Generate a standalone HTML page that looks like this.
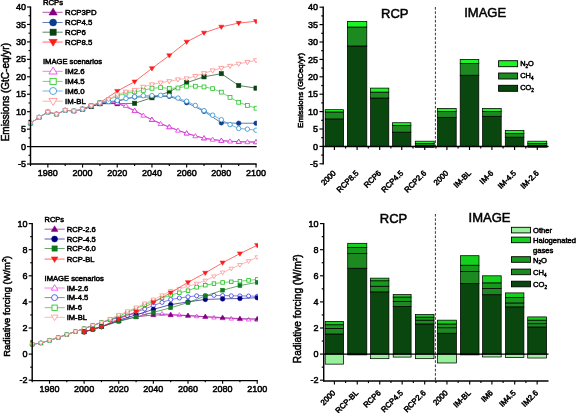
<!DOCTYPE html>
<html lang="en"><head><meta charset="utf-8"><title>RCP and IMAGE scenarios</title>
<style>html,body{margin:0;padding:0;background:#fff}svg{display:block}text{font-family:"Liberation Sans", Arial, sans-serif;fill:#000;stroke:#000;stroke-width:0.5px}</style>
</head><body>
<svg width="577" height="413" viewBox="0 0 577 413">
<rect width="577" height="413" fill="#fff"/>
<defs><clipPath id="ca"><rect x="0" y="0" width="256.85" height="170"/></clipPath>
<clipPath id="cc"><rect x="0" y="207" width="258" height="180"/></clipPath></defs>
<g clip-path="url(#ca)">
<polyline fill="none" stroke="#800080" stroke-width="0.65" points="82.55,109.26 91.22,106.46 99.9,103.67 117.25,103.32 134.6,110.65 151.95,119.73 169.3,127.06 186.65,133.34 204,138.22 221.35,140.67 238.7,141.71 256.05,142.06"/><polygon points="82.55,106.67 79.96,110.95 85.14,110.95" fill="#800080" stroke="#800080" stroke-width="0.5"/><polygon points="91.22,103.87 88.63,108.16 93.82,108.16" fill="#800080" stroke="#800080" stroke-width="0.5"/><polygon points="99.9,101.08 97.31,105.36 102.49,105.36" fill="#800080" stroke="#800080" stroke-width="0.5"/><polygon points="117.25,100.73 114.66,105.02 119.84,105.02" fill="#800080" stroke="#800080" stroke-width="0.5"/><polygon points="134.6,108.06 132.01,112.34 137.19,112.34" fill="#800080" stroke="#800080" stroke-width="0.5"/><polygon points="151.95,117.14 149.36,121.42 154.54,121.42" fill="#800080" stroke="#800080" stroke-width="0.5"/><polygon points="169.3,124.46 166.71,128.75 171.89,128.75" fill="#800080" stroke="#800080" stroke-width="0.5"/><polygon points="186.65,130.75 184.06,135.03 189.24,135.03" fill="#800080" stroke="#800080" stroke-width="0.5"/><polygon points="204,135.63 201.41,139.92 206.59,139.92" fill="#800080" stroke="#800080" stroke-width="0.5"/><polygon points="221.35,138.08 218.76,142.36 223.94,142.36" fill="#800080" stroke="#800080" stroke-width="0.5"/><polygon points="238.7,139.12 236.11,143.41 241.29,143.41" fill="#800080" stroke="#800080" stroke-width="0.5"/><polygon points="256.05,139.47 253.46,143.75 258.64,143.75" fill="#800080" stroke="#800080" stroke-width="0.5"/>
<polyline fill="none" stroke="#0b3d8c" stroke-width="0.65" points="82.55,109.26 91.22,106.46 99.9,103.67 117.25,101.23 134.6,97.04 151.95,97.04 169.3,96.34 186.65,102.63 204,111.35 221.35,122.87 238.7,123.22 256.05,123.22"/><circle cx="82.55" cy="109.26" r="2.31" fill="#0b3d8c" stroke="#0b3d8c" stroke-width="0.5"/><circle cx="91.22" cy="106.46" r="2.31" fill="#0b3d8c" stroke="#0b3d8c" stroke-width="0.5"/><circle cx="99.9" cy="103.67" r="2.31" fill="#0b3d8c" stroke="#0b3d8c" stroke-width="0.5"/><circle cx="117.25" cy="101.23" r="2.31" fill="#0b3d8c" stroke="#0b3d8c" stroke-width="0.5"/><circle cx="134.6" cy="97.04" r="2.31" fill="#0b3d8c" stroke="#0b3d8c" stroke-width="0.5"/><circle cx="151.95" cy="97.04" r="2.31" fill="#0b3d8c" stroke="#0b3d8c" stroke-width="0.5"/><circle cx="169.3" cy="96.34" r="2.31" fill="#0b3d8c" stroke="#0b3d8c" stroke-width="0.5"/><circle cx="186.65" cy="102.63" r="2.31" fill="#0b3d8c" stroke="#0b3d8c" stroke-width="0.5"/><circle cx="204" cy="111.35" r="2.31" fill="#0b3d8c" stroke="#0b3d8c" stroke-width="0.5"/><circle cx="221.35" cy="122.87" r="2.31" fill="#0b3d8c" stroke="#0b3d8c" stroke-width="0.5"/><circle cx="238.7" cy="123.22" r="2.31" fill="#0b3d8c" stroke="#0b3d8c" stroke-width="0.5"/><circle cx="256.05" cy="123.22" r="2.31" fill="#0b3d8c" stroke="#0b3d8c" stroke-width="0.5"/>
<polyline fill="none" stroke="#0a4214" stroke-width="0.65" points="82.55,109.26 91.22,106.46 99.9,103.67 117.25,103.67 134.6,103.32 151.95,97.74 169.3,91.81 186.65,82.73 204,76.8 221.35,73.66 238.7,85.52 256.05,88.14"/><rect x="80.38" y="107.09" width="4.34" height="4.34" fill="#0a4214" stroke="#0a4214" stroke-width="0.5"/><rect x="89.05" y="104.29" width="4.34" height="4.34" fill="#0a4214" stroke="#0a4214" stroke-width="0.5"/><rect x="97.73" y="101.5" width="4.34" height="4.34" fill="#0a4214" stroke="#0a4214" stroke-width="0.5"/><rect x="115.08" y="101.5" width="4.34" height="4.34" fill="#0a4214" stroke="#0a4214" stroke-width="0.5"/><rect x="132.43" y="101.15" width="4.34" height="4.34" fill="#0a4214" stroke="#0a4214" stroke-width="0.5"/><rect x="149.78" y="95.57" width="4.34" height="4.34" fill="#0a4214" stroke="#0a4214" stroke-width="0.5"/><rect x="167.13" y="89.64" width="4.34" height="4.34" fill="#0a4214" stroke="#0a4214" stroke-width="0.5"/><rect x="184.48" y="80.56" width="4.34" height="4.34" fill="#0a4214" stroke="#0a4214" stroke-width="0.5"/><rect x="201.83" y="74.63" width="4.34" height="4.34" fill="#0a4214" stroke="#0a4214" stroke-width="0.5"/><rect x="219.18" y="71.49" width="4.34" height="4.34" fill="#0a4214" stroke="#0a4214" stroke-width="0.5"/><rect x="236.53" y="83.35" width="4.34" height="4.34" fill="#0a4214" stroke="#0a4214" stroke-width="0.5"/><rect x="253.88" y="85.97" width="4.34" height="4.34" fill="#0a4214" stroke="#0a4214" stroke-width="0.5"/>
<polyline fill="none" stroke="#ff1a1a" stroke-width="0.65" points="82.55,109.26 91.22,105.77 99.9,102.63 117.25,91.11 134.6,81.69 151.95,68.42 169.3,55.51 186.65,41.9 204,32.83 221.35,26.89 238.7,23.05 256.05,21.31"/><polygon points="82.55,111.85 79.96,107.57 85.14,107.57" fill="#ff1a1a" stroke="#ff1a1a" stroke-width="0.5"/><polygon points="91.22,108.36 88.63,104.08 93.82,104.08" fill="#ff1a1a" stroke="#ff1a1a" stroke-width="0.5"/><polygon points="99.9,105.22 97.31,100.93 102.49,100.93" fill="#ff1a1a" stroke="#ff1a1a" stroke-width="0.5"/><polygon points="117.25,93.7 114.66,89.42 119.84,89.42" fill="#ff1a1a" stroke="#ff1a1a" stroke-width="0.5"/><polygon points="134.6,84.28 132.01,79.99 137.19,79.99" fill="#ff1a1a" stroke="#ff1a1a" stroke-width="0.5"/><polygon points="151.95,71.02 149.36,66.73 154.54,66.73" fill="#ff1a1a" stroke="#ff1a1a" stroke-width="0.5"/><polygon points="169.3,58.1 166.71,53.82 171.89,53.82" fill="#ff1a1a" stroke="#ff1a1a" stroke-width="0.5"/><polygon points="186.65,44.49 184.06,40.21 189.24,40.21" fill="#ff1a1a" stroke="#ff1a1a" stroke-width="0.5"/><polygon points="204,35.42 201.41,31.13 206.59,31.13" fill="#ff1a1a" stroke="#ff1a1a" stroke-width="0.5"/><polygon points="221.35,29.48 218.76,25.2 223.94,25.2" fill="#ff1a1a" stroke="#ff1a1a" stroke-width="0.5"/><polygon points="238.7,25.65 236.11,21.36 241.29,21.36" fill="#ff1a1a" stroke="#ff1a1a" stroke-width="0.5"/><polygon points="256.05,23.9 253.46,19.62 258.64,19.62" fill="#ff1a1a" stroke="#ff1a1a" stroke-width="0.5"/>
<polyline fill="none" stroke="#e838e8" stroke-width="0.65" points="30.5,123.22 39.17,117.28 47.85,112.05 56.53,114.14 65.2,110.3 73.88,111 82.55,109.26 91.22,105.77 99.9,102.97 108.58,101.93 117.25,102.97 125.93,105.77 134.6,110.65 143.28,115.54 151.95,119.73 160.62,123.91 169.3,127.06 177.97,130.55 186.65,133.34 195.33,136.13 204,138.22 212.68,139.62 221.35,140.67 230.03,141.36 238.7,141.71 247.38,142.06 256.05,142.06"/><polygon points="30.5,120.71 27.99,124.85 33.01,124.85" fill="#fff" stroke="#e838e8" stroke-width="0.8"/><polygon points="39.17,114.78 36.67,118.92 41.68,118.92" fill="#fff" stroke="#e838e8" stroke-width="0.8"/><polygon points="47.85,109.54 45.34,113.69 50.36,113.69" fill="#fff" stroke="#e838e8" stroke-width="0.8"/><polygon points="56.53,111.63 54.02,115.78 59.03,115.78" fill="#fff" stroke="#e838e8" stroke-width="0.8"/><polygon points="65.2,107.8 62.69,111.94 67.71,111.94" fill="#fff" stroke="#e838e8" stroke-width="0.8"/><polygon points="73.88,108.49 71.37,112.64 76.38,112.64" fill="#fff" stroke="#e838e8" stroke-width="0.8"/><polygon points="82.55,106.75 80.04,110.89 85.06,110.89" fill="#fff" stroke="#e838e8" stroke-width="0.8"/><polygon points="91.22,103.26 88.72,107.4 93.73,107.4" fill="#fff" stroke="#e838e8" stroke-width="0.8"/><polygon points="99.9,100.47 97.39,104.61 102.41,104.61" fill="#fff" stroke="#e838e8" stroke-width="0.8"/><polygon points="108.58,99.42 106.07,103.56 111.08,103.56" fill="#fff" stroke="#e838e8" stroke-width="0.8"/><polygon points="117.25,100.47 114.74,104.61 119.76,104.61" fill="#fff" stroke="#e838e8" stroke-width="0.8"/><polygon points="125.93,103.26 123.42,107.4 128.43,107.4" fill="#fff" stroke="#e838e8" stroke-width="0.8"/><polygon points="134.6,108.14 132.09,112.29 137.11,112.29" fill="#fff" stroke="#e838e8" stroke-width="0.8"/><polygon points="143.28,113.03 140.77,117.18 145.78,117.18" fill="#fff" stroke="#e838e8" stroke-width="0.8"/><polygon points="151.95,117.22 149.44,121.36 154.46,121.36" fill="#fff" stroke="#e838e8" stroke-width="0.8"/><polygon points="160.62,121.41 158.12,125.55 163.13,125.55" fill="#fff" stroke="#e838e8" stroke-width="0.8"/><polygon points="169.3,124.55 166.79,128.69 171.81,128.69" fill="#fff" stroke="#e838e8" stroke-width="0.8"/><polygon points="177.97,128.04 175.47,132.18 180.48,132.18" fill="#fff" stroke="#e838e8" stroke-width="0.8"/><polygon points="186.65,130.83 184.14,134.97 189.16,134.97" fill="#fff" stroke="#e838e8" stroke-width="0.8"/><polygon points="195.33,133.62 192.82,137.77 197.83,137.77" fill="#fff" stroke="#e838e8" stroke-width="0.8"/><polygon points="204,135.72 201.49,139.86 206.51,139.86" fill="#fff" stroke="#e838e8" stroke-width="0.8"/><polygon points="212.68,137.11 210.17,141.26 215.18,141.26" fill="#fff" stroke="#e838e8" stroke-width="0.8"/><polygon points="221.35,138.16 218.84,142.3 223.86,142.3" fill="#fff" stroke="#e838e8" stroke-width="0.8"/><polygon points="230.03,138.86 227.52,143 232.53,143" fill="#fff" stroke="#e838e8" stroke-width="0.8"/><polygon points="238.7,139.21 236.19,143.35 241.21,143.35" fill="#fff" stroke="#e838e8" stroke-width="0.8"/><polygon points="247.38,139.55 244.87,143.7 249.88,143.7" fill="#fff" stroke="#e838e8" stroke-width="0.8"/><polygon points="256.05,139.55 253.54,143.7 258.56,143.7" fill="#fff" stroke="#e838e8" stroke-width="0.8"/>
<polyline fill="none" stroke="#22c322" stroke-width="0.65" points="30.5,123.22 39.17,117.28 47.85,112.05 56.53,114.14 65.2,110.3 73.88,111 82.55,109.26 91.22,105.77 99.9,102.97 108.58,99.83 117.25,95.99 125.93,93.2 134.6,91.81 143.28,90.41 151.95,88.32 160.62,87.62 169.3,88.32 177.97,87.97 186.65,86.22 195.33,86.22 204,86.92 212.68,88.67 221.35,92.16 230.03,97.39 238.7,102.28 247.38,105.42 256.05,108.21"/><rect x="28.58" y="121.29" width="3.84" height="3.84" fill="#fff" stroke="#22c322" stroke-width="0.8"/><rect x="37.25" y="115.36" width="3.84" height="3.84" fill="#fff" stroke="#22c322" stroke-width="0.8"/><rect x="45.93" y="110.13" width="3.84" height="3.84" fill="#fff" stroke="#22c322" stroke-width="0.8"/><rect x="54.6" y="112.22" width="3.84" height="3.84" fill="#fff" stroke="#22c322" stroke-width="0.8"/><rect x="63.28" y="108.38" width="3.84" height="3.84" fill="#fff" stroke="#22c322" stroke-width="0.8"/><rect x="71.95" y="109.08" width="3.84" height="3.84" fill="#fff" stroke="#22c322" stroke-width="0.8"/><rect x="80.63" y="107.34" width="3.84" height="3.84" fill="#fff" stroke="#22c322" stroke-width="0.8"/><rect x="89.3" y="103.84" width="3.84" height="3.84" fill="#fff" stroke="#22c322" stroke-width="0.8"/><rect x="97.98" y="101.05" width="3.84" height="3.84" fill="#fff" stroke="#22c322" stroke-width="0.8"/><rect x="106.65" y="97.91" width="3.84" height="3.84" fill="#fff" stroke="#22c322" stroke-width="0.8"/><rect x="115.33" y="94.07" width="3.84" height="3.84" fill="#fff" stroke="#22c322" stroke-width="0.8"/><rect x="124" y="91.28" width="3.84" height="3.84" fill="#fff" stroke="#22c322" stroke-width="0.8"/><rect x="132.68" y="89.88" width="3.84" height="3.84" fill="#fff" stroke="#22c322" stroke-width="0.8"/><rect x="141.35" y="88.49" width="3.84" height="3.84" fill="#fff" stroke="#22c322" stroke-width="0.8"/><rect x="150.03" y="86.39" width="3.84" height="3.84" fill="#fff" stroke="#22c322" stroke-width="0.8"/><rect x="158.7" y="85.7" width="3.84" height="3.84" fill="#fff" stroke="#22c322" stroke-width="0.8"/><rect x="167.38" y="86.39" width="3.84" height="3.84" fill="#fff" stroke="#22c322" stroke-width="0.8"/><rect x="176.05" y="86.05" width="3.84" height="3.84" fill="#fff" stroke="#22c322" stroke-width="0.8"/><rect x="184.73" y="84.3" width="3.84" height="3.84" fill="#fff" stroke="#22c322" stroke-width="0.8"/><rect x="193.4" y="84.3" width="3.84" height="3.84" fill="#fff" stroke="#22c322" stroke-width="0.8"/><rect x="202.08" y="85" width="3.84" height="3.84" fill="#fff" stroke="#22c322" stroke-width="0.8"/><rect x="210.75" y="86.74" width="3.84" height="3.84" fill="#fff" stroke="#22c322" stroke-width="0.8"/><rect x="219.43" y="90.23" width="3.84" height="3.84" fill="#fff" stroke="#22c322" stroke-width="0.8"/><rect x="228.1" y="95.47" width="3.84" height="3.84" fill="#fff" stroke="#22c322" stroke-width="0.8"/><rect x="236.78" y="100.35" width="3.84" height="3.84" fill="#fff" stroke="#22c322" stroke-width="0.8"/><rect x="245.45" y="103.5" width="3.84" height="3.84" fill="#fff" stroke="#22c322" stroke-width="0.8"/><rect x="254.13" y="106.29" width="3.84" height="3.84" fill="#fff" stroke="#22c322" stroke-width="0.8"/>
<polyline fill="none" stroke="#2a8fd0" stroke-width="0.65" points="30.5,123.22 39.17,117.28 47.85,112.05 56.53,114.14 65.2,110.3 73.88,111 82.55,109.26 91.22,105.77 99.9,102.97 108.58,101.58 117.25,100.53 125.93,98.44 134.6,96.69 143.28,95.65 151.95,95.65 160.62,95.3 169.3,95.65 177.97,98.09 186.65,101.23 195.33,105.42 204,110.65 212.68,115.19 221.35,119.73 230.03,124.61 238.7,128.45 247.38,129.15 256.05,130.2"/><circle cx="30.5" cy="123.22" r="2.24" fill="#fff" stroke="#2a8fd0" stroke-width="0.8"/><circle cx="39.17" cy="117.28" r="2.24" fill="#fff" stroke="#2a8fd0" stroke-width="0.8"/><circle cx="47.85" cy="112.05" r="2.24" fill="#fff" stroke="#2a8fd0" stroke-width="0.8"/><circle cx="56.53" cy="114.14" r="2.24" fill="#fff" stroke="#2a8fd0" stroke-width="0.8"/><circle cx="65.2" cy="110.3" r="2.24" fill="#fff" stroke="#2a8fd0" stroke-width="0.8"/><circle cx="73.88" cy="111" r="2.24" fill="#fff" stroke="#2a8fd0" stroke-width="0.8"/><circle cx="82.55" cy="109.26" r="2.24" fill="#fff" stroke="#2a8fd0" stroke-width="0.8"/><circle cx="91.22" cy="105.77" r="2.24" fill="#fff" stroke="#2a8fd0" stroke-width="0.8"/><circle cx="99.9" cy="102.97" r="2.24" fill="#fff" stroke="#2a8fd0" stroke-width="0.8"/><circle cx="108.58" cy="101.58" r="2.24" fill="#fff" stroke="#2a8fd0" stroke-width="0.8"/><circle cx="117.25" cy="100.53" r="2.24" fill="#fff" stroke="#2a8fd0" stroke-width="0.8"/><circle cx="125.93" cy="98.44" r="2.24" fill="#fff" stroke="#2a8fd0" stroke-width="0.8"/><circle cx="134.6" cy="96.69" r="2.24" fill="#fff" stroke="#2a8fd0" stroke-width="0.8"/><circle cx="143.28" cy="95.65" r="2.24" fill="#fff" stroke="#2a8fd0" stroke-width="0.8"/><circle cx="151.95" cy="95.65" r="2.24" fill="#fff" stroke="#2a8fd0" stroke-width="0.8"/><circle cx="160.62" cy="95.3" r="2.24" fill="#fff" stroke="#2a8fd0" stroke-width="0.8"/><circle cx="169.3" cy="95.65" r="2.24" fill="#fff" stroke="#2a8fd0" stroke-width="0.8"/><circle cx="177.97" cy="98.09" r="2.24" fill="#fff" stroke="#2a8fd0" stroke-width="0.8"/><circle cx="186.65" cy="101.23" r="2.24" fill="#fff" stroke="#2a8fd0" stroke-width="0.8"/><circle cx="195.33" cy="105.42" r="2.24" fill="#fff" stroke="#2a8fd0" stroke-width="0.8"/><circle cx="204" cy="110.65" r="2.24" fill="#fff" stroke="#2a8fd0" stroke-width="0.8"/><circle cx="212.68" cy="115.19" r="2.24" fill="#fff" stroke="#2a8fd0" stroke-width="0.8"/><circle cx="221.35" cy="119.73" r="2.24" fill="#fff" stroke="#2a8fd0" stroke-width="0.8"/><circle cx="230.03" cy="124.61" r="2.24" fill="#fff" stroke="#2a8fd0" stroke-width="0.8"/><circle cx="238.7" cy="128.45" r="2.24" fill="#fff" stroke="#2a8fd0" stroke-width="0.8"/><circle cx="247.38" cy="129.15" r="2.24" fill="#fff" stroke="#2a8fd0" stroke-width="0.8"/><circle cx="256.05" cy="130.2" r="2.24" fill="#fff" stroke="#2a8fd0" stroke-width="0.8"/>
<polyline fill="none" stroke="#ff8a8a" stroke-width="0.65" points="30.5,123.22 39.17,117.28 47.85,112.05 56.53,114.14 65.2,110.3 73.88,111 82.55,109.26 91.22,105.77 99.9,102.97 108.58,99.48 117.25,94.6 125.93,91.81 134.6,90.06 143.28,86.92 151.95,84.48 160.62,82.73 169.3,81.34 177.97,79.59 186.65,78.54 195.33,76.1 204,73.31 212.68,70.52 221.35,68.07 230.03,65.98 238.7,63.89 247.38,62.14 256.05,60.4"/><polygon points="30.5,125.72 27.99,121.58 33.01,121.58" fill="#fff" stroke="#ff8a8a" stroke-width="0.8"/><polygon points="39.17,119.79 36.67,115.65 41.68,115.65" fill="#fff" stroke="#ff8a8a" stroke-width="0.8"/><polygon points="47.85,114.56 45.34,110.41 50.36,110.41" fill="#fff" stroke="#ff8a8a" stroke-width="0.8"/><polygon points="56.53,116.65 54.02,112.51 59.03,112.51" fill="#fff" stroke="#ff8a8a" stroke-width="0.8"/><polygon points="65.2,112.81 62.69,108.67 67.71,108.67" fill="#fff" stroke="#ff8a8a" stroke-width="0.8"/><polygon points="73.88,113.51 71.37,109.37 76.38,109.37" fill="#fff" stroke="#ff8a8a" stroke-width="0.8"/><polygon points="82.55,111.77 80.04,107.62 85.06,107.62" fill="#fff" stroke="#ff8a8a" stroke-width="0.8"/><polygon points="91.22,108.27 88.72,104.13 93.73,104.13" fill="#fff" stroke="#ff8a8a" stroke-width="0.8"/><polygon points="99.9,105.48 97.39,101.34 102.41,101.34" fill="#fff" stroke="#ff8a8a" stroke-width="0.8"/><polygon points="108.58,101.99 106.07,97.85 111.08,97.85" fill="#fff" stroke="#ff8a8a" stroke-width="0.8"/><polygon points="117.25,97.11 114.74,92.96 119.76,92.96" fill="#fff" stroke="#ff8a8a" stroke-width="0.8"/><polygon points="125.93,94.31 123.42,90.17 128.43,90.17" fill="#fff" stroke="#ff8a8a" stroke-width="0.8"/><polygon points="134.6,92.57 132.09,88.43 137.11,88.43" fill="#fff" stroke="#ff8a8a" stroke-width="0.8"/><polygon points="143.28,89.43 140.77,85.28 145.78,85.28" fill="#fff" stroke="#ff8a8a" stroke-width="0.8"/><polygon points="151.95,86.99 149.44,82.84 154.46,82.84" fill="#fff" stroke="#ff8a8a" stroke-width="0.8"/><polygon points="160.62,85.24 158.12,81.1 163.13,81.1" fill="#fff" stroke="#ff8a8a" stroke-width="0.8"/><polygon points="169.3,83.84 166.79,79.7 171.81,79.7" fill="#fff" stroke="#ff8a8a" stroke-width="0.8"/><polygon points="177.97,82.1 175.47,77.96 180.48,77.96" fill="#fff" stroke="#ff8a8a" stroke-width="0.8"/><polygon points="186.65,81.05 184.14,76.91 189.16,76.91" fill="#fff" stroke="#ff8a8a" stroke-width="0.8"/><polygon points="195.33,78.61 192.82,74.47 197.83,74.47" fill="#fff" stroke="#ff8a8a" stroke-width="0.8"/><polygon points="204,75.82 201.49,71.67 206.51,71.67" fill="#fff" stroke="#ff8a8a" stroke-width="0.8"/><polygon points="212.68,73.03 210.17,68.88 215.18,68.88" fill="#fff" stroke="#ff8a8a" stroke-width="0.8"/><polygon points="221.35,70.58 218.84,66.44 223.86,66.44" fill="#fff" stroke="#ff8a8a" stroke-width="0.8"/><polygon points="230.03,68.49 227.52,64.34 232.53,64.34" fill="#fff" stroke="#ff8a8a" stroke-width="0.8"/><polygon points="238.7,66.39 236.19,62.25 241.21,62.25" fill="#fff" stroke="#ff8a8a" stroke-width="0.8"/><polygon points="247.38,64.65 244.87,60.51 249.88,60.51" fill="#fff" stroke="#ff8a8a" stroke-width="0.8"/><polygon points="256.05,62.9 253.54,58.76 258.56,58.76" fill="#fff" stroke="#ff8a8a" stroke-width="0.8"/>
</g>
<g stroke="#000" stroke-width="1.45" fill="none">
<line x1="30.5" y1="6.4" x2="30.5" y2="164.65"/>
<line x1="30" y1="164.05" x2="256.65" y2="164.05"/>
<line x1="30" y1="146.6" x2="256.65" y2="146.6"/>
</g>
<g stroke="#000" stroke-width="1.15">
<line x1="27" y1="164.05" x2="30.5" y2="164.05"/>
<line x1="27" y1="146.6" x2="30.5" y2="146.6"/>
<line x1="27" y1="129.15" x2="30.5" y2="129.15"/>
<line x1="27" y1="111.7" x2="30.5" y2="111.7"/>
<line x1="27" y1="94.25" x2="30.5" y2="94.25"/>
<line x1="27" y1="76.8" x2="30.5" y2="76.8"/>
<line x1="27" y1="59.35" x2="30.5" y2="59.35"/>
<line x1="27" y1="41.9" x2="30.5" y2="41.9"/>
<line x1="27" y1="24.45" x2="30.5" y2="24.45"/>
<line x1="27" y1="7" x2="30.5" y2="7"/>
<line x1="28.5" y1="155.32" x2="30.5" y2="155.32"/>
<line x1="28.5" y1="137.88" x2="30.5" y2="137.88"/>
<line x1="28.5" y1="120.42" x2="30.5" y2="120.42"/>
<line x1="28.5" y1="102.97" x2="30.5" y2="102.97"/>
<line x1="28.5" y1="85.52" x2="30.5" y2="85.52"/>
<line x1="28.5" y1="68.07" x2="30.5" y2="68.07"/>
<line x1="28.5" y1="50.62" x2="30.5" y2="50.62"/>
<line x1="28.5" y1="33.17" x2="30.5" y2="33.17"/>
<line x1="28.5" y1="15.72" x2="30.5" y2="15.72"/>
<line x1="47.85" y1="164.05" x2="47.85" y2="167.55"/>
<line x1="82.55" y1="164.05" x2="82.55" y2="167.55"/>
<line x1="117.25" y1="164.05" x2="117.25" y2="167.55"/>
<line x1="151.95" y1="164.05" x2="151.95" y2="167.55"/>
<line x1="186.65" y1="164.05" x2="186.65" y2="167.55"/>
<line x1="221.35" y1="164.05" x2="221.35" y2="167.55"/>
<line x1="256.05" y1="164.05" x2="256.05" y2="167.55"/>
<line x1="30.5" y1="164.05" x2="30.5" y2="166.05"/>
<line x1="65.2" y1="164.05" x2="65.2" y2="166.05"/>
<line x1="99.9" y1="164.05" x2="99.9" y2="166.05"/>
<line x1="134.6" y1="164.05" x2="134.6" y2="166.05"/>
<line x1="169.3" y1="164.05" x2="169.3" y2="166.05"/>
<line x1="204" y1="164.05" x2="204" y2="166.05"/>
<line x1="238.7" y1="164.05" x2="238.7" y2="166.05"/>
</g>
<g font-size="9" text-anchor="end">
<text x="26" y="167.15">-5</text>
<text x="26" y="149.7">0</text>
<text x="26" y="132.25">5</text>
<text x="26" y="114.8">10</text>
<text x="26" y="97.35">15</text>
<text x="26" y="79.9">20</text>
<text x="26" y="62.45">25</text>
<text x="26" y="45">30</text>
<text x="26" y="27.55">35</text>
<text x="26" y="10.1">40</text>
</g>
<g font-size="9" text-anchor="middle">
<text x="47.85" y="176.2">1980</text>
<text x="82.55" y="176.2">2000</text>
<text x="117.25" y="176.2">2020</text>
<text x="151.95" y="176.2">2040</text>
<text x="186.65" y="176.2">2060</text>
<text x="221.35" y="176.2">2080</text>
<text x="256.05" y="176.2">2100</text>
</g>
<text transform="translate(8.8,92.2) rotate(-90)" font-size="10" text-anchor="middle">Emissions (GtC-eq/yr)</text>
<text x="43" y="5.3" font-size="7.7">RCPs</text>
<line x1="42.5" y1="12.3" x2="62.6" y2="12.3" stroke="#800080" stroke-width="0.65"/><polygon points="53.1,8.12 48.92,15.03 57.28,15.03" fill="#800080" stroke="#800080" stroke-width="0.5"/><text x="65" y="15.11" font-size="7.8">RCP3PD</text>
<line x1="42.5" y1="22.5" x2="62.6" y2="22.5" stroke="#0b3d8c" stroke-width="0.65"/><circle cx="53.1" cy="22.5" r="3.5" fill="#0b3d8c" stroke="#0b3d8c" stroke-width="0.5"/><text x="65" y="25.31" font-size="7.8">RCP4.5</text>
<line x1="42.5" y1="32.2" x2="62.6" y2="32.2" stroke="#0a4214" stroke-width="0.65"/><rect x="50" y="29.1" width="6.2" height="6.2" fill="#0a4214" stroke="#0a4214" stroke-width="0.5"/><text x="65" y="35.01" font-size="7.8">RCP6</text>
<line x1="42.5" y1="42.1" x2="62.6" y2="42.1" stroke="#ff1a1a" stroke-width="0.65"/><polygon points="53.1,46.28 48.92,39.37 57.28,39.37" fill="#ff1a1a" stroke="#ff1a1a" stroke-width="0.5"/><text x="65" y="44.91" font-size="7.8">RCP8.5</text>
<text x="43" y="64.4" font-size="7.6">IMAGE scenarios</text>
<line x1="42.5" y1="71.3" x2="62.6" y2="71.3" stroke="#e838e8" stroke-width="0.65"/><polygon points="53.1,67.12 48.92,74.03 57.28,74.03" fill="#fff" stroke="#e838e8" stroke-width="0.8"/><text x="65" y="74.11" font-size="7.8">IM2.6</text>
<line x1="42.5" y1="81.4" x2="62.6" y2="81.4" stroke="#22c322" stroke-width="0.65"/><rect x="50" y="78.3" width="6.2" height="6.2" fill="#fff" stroke="#22c322" stroke-width="0.8"/><text x="65" y="84.21" font-size="7.8">IM4.5</text>
<line x1="42.5" y1="91" x2="62.6" y2="91" stroke="#2a8fd0" stroke-width="0.65"/><circle cx="53.1" cy="91" r="3.5" fill="#fff" stroke="#2a8fd0" stroke-width="0.8"/><text x="65" y="93.81" font-size="7.8">IM6.0</text>
<line x1="42.5" y1="101.2" x2="62.6" y2="101.2" stroke="#ff8a8a" stroke-width="0.65"/><polygon points="53.1,105.38 48.92,98.47 57.28,98.47" fill="#fff" stroke="#ff8a8a" stroke-width="0.8"/><text x="65" y="104.01" font-size="7.8">IM-BL</text>
<g clip-path="url(#cc)">
<polyline fill="none" stroke="#f03cf0" stroke-width="0.65" points="32.2,344.31 40.86,343.01 49.51,340.4 58.17,337.53 66.82,334.53 75.48,331.52 84.13,328.65 92.78,325.39 101.44,322.52 110.1,319.52 118.75,316.91 127.41,314.95 136.06,313.91 144.72,313.38 153.37,313.38 162.03,313.65 170.68,314.3 179.34,314.95 187.99,315.6 196.65,316.25 205.3,316.91 213.96,317.56 222.61,318.21 231.26,318.6 239.92,319.13 248.57,319.52 257.23,319.91"/><polygon points="32.2,342.06 29.94,345.79 34.46,345.79" fill="#fff" stroke="#f03cf0" stroke-width="0.8"/><polygon points="40.86,340.75 38.6,344.48 43.11,344.48" fill="#fff" stroke="#f03cf0" stroke-width="0.8"/><polygon points="49.51,338.14 47.25,341.87 51.77,341.87" fill="#fff" stroke="#f03cf0" stroke-width="0.8"/><polygon points="58.17,335.27 55.91,339 60.42,339" fill="#fff" stroke="#f03cf0" stroke-width="0.8"/><polygon points="66.82,332.27 64.56,336 69.08,336" fill="#fff" stroke="#f03cf0" stroke-width="0.8"/><polygon points="75.48,329.27 73.22,333 77.73,333" fill="#fff" stroke="#f03cf0" stroke-width="0.8"/><polygon points="84.13,326.4 81.87,330.13 86.39,330.13" fill="#fff" stroke="#f03cf0" stroke-width="0.8"/><polygon points="92.78,323.13 90.53,326.86 95.04,326.86" fill="#fff" stroke="#f03cf0" stroke-width="0.8"/><polygon points="101.44,320.26 99.18,323.99 103.7,323.99" fill="#fff" stroke="#f03cf0" stroke-width="0.8"/><polygon points="110.1,317.26 107.84,320.99 112.35,320.99" fill="#fff" stroke="#f03cf0" stroke-width="0.8"/><polygon points="118.75,314.65 116.49,318.38 121.01,318.38" fill="#fff" stroke="#f03cf0" stroke-width="0.8"/><polygon points="127.41,312.69 125.15,316.42 129.66,316.42" fill="#fff" stroke="#f03cf0" stroke-width="0.8"/><polygon points="136.06,311.65 133.8,315.38 138.32,315.38" fill="#fff" stroke="#f03cf0" stroke-width="0.8"/><polygon points="144.72,311.13 142.46,314.86 146.97,314.86" fill="#fff" stroke="#f03cf0" stroke-width="0.8"/><polygon points="153.37,311.13 151.11,314.86 155.63,314.86" fill="#fff" stroke="#f03cf0" stroke-width="0.8"/><polygon points="162.03,311.39 159.77,315.12 164.28,315.12" fill="#fff" stroke="#f03cf0" stroke-width="0.8"/><polygon points="170.68,312.04 168.42,315.77 172.94,315.77" fill="#fff" stroke="#f03cf0" stroke-width="0.8"/><polygon points="179.34,312.69 177.08,316.42 181.59,316.42" fill="#fff" stroke="#f03cf0" stroke-width="0.8"/><polygon points="187.99,313.35 185.73,317.08 190.25,317.08" fill="#fff" stroke="#f03cf0" stroke-width="0.8"/><polygon points="196.65,314 194.39,317.73 198.9,317.73" fill="#fff" stroke="#f03cf0" stroke-width="0.8"/><polygon points="205.3,314.65 203.04,318.38 207.56,318.38" fill="#fff" stroke="#f03cf0" stroke-width="0.8"/><polygon points="213.96,315.3 211.7,319.03 216.21,319.03" fill="#fff" stroke="#f03cf0" stroke-width="0.8"/><polygon points="222.61,315.96 220.35,319.69 224.87,319.69" fill="#fff" stroke="#f03cf0" stroke-width="0.8"/><polygon points="231.26,316.35 229.01,320.08 233.52,320.08" fill="#fff" stroke="#f03cf0" stroke-width="0.8"/><polygon points="239.92,316.87 237.66,320.6 242.18,320.6" fill="#fff" stroke="#f03cf0" stroke-width="0.8"/><polygon points="248.57,317.26 246.32,320.99 250.83,320.99" fill="#fff" stroke="#f03cf0" stroke-width="0.8"/><polygon points="257.23,317.65 254.97,321.38 259.49,321.38" fill="#fff" stroke="#f03cf0" stroke-width="0.8"/>
<polyline fill="none" stroke="#3a3af0" stroke-width="0.65" points="32.2,344.31 40.86,343.01 49.51,340.4 58.17,337.53 66.82,334.53 75.48,331.52 84.13,328.65 92.78,325.39 101.44,322.52 110.1,319.91 118.75,317.56 127.41,315.6 136.06,312.34 144.72,308.95 153.37,305.55 162.03,302.42 170.68,299.55 179.34,297.99 187.99,296.81 196.65,295.77 205.3,295.51 213.96,295.38 222.61,295.51 231.26,295.77 239.92,295.9 248.57,296.03 257.23,296.29"/><circle cx="32.2" cy="344.31" r="2.03" fill="#fff" stroke="#3a3af0" stroke-width="0.8"/><circle cx="40.86" cy="343.01" r="2.03" fill="#fff" stroke="#3a3af0" stroke-width="0.8"/><circle cx="49.51" cy="340.4" r="2.03" fill="#fff" stroke="#3a3af0" stroke-width="0.8"/><circle cx="58.17" cy="337.53" r="2.03" fill="#fff" stroke="#3a3af0" stroke-width="0.8"/><circle cx="66.82" cy="334.53" r="2.03" fill="#fff" stroke="#3a3af0" stroke-width="0.8"/><circle cx="75.48" cy="331.52" r="2.03" fill="#fff" stroke="#3a3af0" stroke-width="0.8"/><circle cx="84.13" cy="328.65" r="2.03" fill="#fff" stroke="#3a3af0" stroke-width="0.8"/><circle cx="92.78" cy="325.39" r="2.03" fill="#fff" stroke="#3a3af0" stroke-width="0.8"/><circle cx="101.44" cy="322.52" r="2.03" fill="#fff" stroke="#3a3af0" stroke-width="0.8"/><circle cx="110.1" cy="319.91" r="2.03" fill="#fff" stroke="#3a3af0" stroke-width="0.8"/><circle cx="118.75" cy="317.56" r="2.03" fill="#fff" stroke="#3a3af0" stroke-width="0.8"/><circle cx="127.41" cy="315.6" r="2.03" fill="#fff" stroke="#3a3af0" stroke-width="0.8"/><circle cx="136.06" cy="312.34" r="2.03" fill="#fff" stroke="#3a3af0" stroke-width="0.8"/><circle cx="144.72" cy="308.95" r="2.03" fill="#fff" stroke="#3a3af0" stroke-width="0.8"/><circle cx="153.37" cy="305.55" r="2.03" fill="#fff" stroke="#3a3af0" stroke-width="0.8"/><circle cx="162.03" cy="302.42" r="2.03" fill="#fff" stroke="#3a3af0" stroke-width="0.8"/><circle cx="170.68" cy="299.55" r="2.03" fill="#fff" stroke="#3a3af0" stroke-width="0.8"/><circle cx="179.34" cy="297.99" r="2.03" fill="#fff" stroke="#3a3af0" stroke-width="0.8"/><circle cx="187.99" cy="296.81" r="2.03" fill="#fff" stroke="#3a3af0" stroke-width="0.8"/><circle cx="196.65" cy="295.77" r="2.03" fill="#fff" stroke="#3a3af0" stroke-width="0.8"/><circle cx="205.3" cy="295.51" r="2.03" fill="#fff" stroke="#3a3af0" stroke-width="0.8"/><circle cx="213.96" cy="295.38" r="2.03" fill="#fff" stroke="#3a3af0" stroke-width="0.8"/><circle cx="222.61" cy="295.51" r="2.03" fill="#fff" stroke="#3a3af0" stroke-width="0.8"/><circle cx="231.26" cy="295.77" r="2.03" fill="#fff" stroke="#3a3af0" stroke-width="0.8"/><circle cx="239.92" cy="295.9" r="2.03" fill="#fff" stroke="#3a3af0" stroke-width="0.8"/><circle cx="248.57" cy="296.03" r="2.03" fill="#fff" stroke="#3a3af0" stroke-width="0.8"/><circle cx="257.23" cy="296.29" r="2.03" fill="#fff" stroke="#3a3af0" stroke-width="0.8"/>
<polyline fill="none" stroke="#12c212" stroke-width="0.65" points="32.2,344.31 40.86,343.01 49.51,340.4 58.17,337.53 66.82,334.53 75.48,331.52 84.13,328.65 92.78,325.39 101.44,322.52 110.1,319.52 118.75,316.25 127.41,312.34 136.06,308.43 144.72,304.77 153.37,301.25 162.03,297.99 170.68,295.11 179.34,292.76 187.99,290.68 196.65,287.28 205.3,285.2 213.96,283.63 222.61,282.46 231.26,281.8 239.92,281.15 248.57,280.37 257.23,279.45"/><rect x="30.43" y="342.55" width="3.53" height="3.53" fill="#fff" stroke="#12c212" stroke-width="0.8"/><rect x="39.09" y="341.24" width="3.53" height="3.53" fill="#fff" stroke="#12c212" stroke-width="0.8"/><rect x="47.74" y="338.63" width="3.53" height="3.53" fill="#fff" stroke="#12c212" stroke-width="0.8"/><rect x="56.4" y="335.76" width="3.53" height="3.53" fill="#fff" stroke="#12c212" stroke-width="0.8"/><rect x="65.05" y="332.76" width="3.53" height="3.53" fill="#fff" stroke="#12c212" stroke-width="0.8"/><rect x="73.71" y="329.76" width="3.53" height="3.53" fill="#fff" stroke="#12c212" stroke-width="0.8"/><rect x="82.36" y="326.89" width="3.53" height="3.53" fill="#fff" stroke="#12c212" stroke-width="0.8"/><rect x="91.02" y="323.62" width="3.53" height="3.53" fill="#fff" stroke="#12c212" stroke-width="0.8"/><rect x="99.67" y="320.75" width="3.53" height="3.53" fill="#fff" stroke="#12c212" stroke-width="0.8"/><rect x="108.33" y="317.75" width="3.53" height="3.53" fill="#fff" stroke="#12c212" stroke-width="0.8"/><rect x="116.98" y="314.49" width="3.53" height="3.53" fill="#fff" stroke="#12c212" stroke-width="0.8"/><rect x="125.64" y="310.57" width="3.53" height="3.53" fill="#fff" stroke="#12c212" stroke-width="0.8"/><rect x="134.29" y="306.66" width="3.53" height="3.53" fill="#fff" stroke="#12c212" stroke-width="0.8"/><rect x="142.95" y="303" width="3.53" height="3.53" fill="#fff" stroke="#12c212" stroke-width="0.8"/><rect x="151.6" y="299.48" width="3.53" height="3.53" fill="#fff" stroke="#12c212" stroke-width="0.8"/><rect x="160.26" y="296.22" width="3.53" height="3.53" fill="#fff" stroke="#12c212" stroke-width="0.8"/><rect x="168.91" y="293.35" width="3.53" height="3.53" fill="#fff" stroke="#12c212" stroke-width="0.8"/><rect x="177.57" y="291" width="3.53" height="3.53" fill="#fff" stroke="#12c212" stroke-width="0.8"/><rect x="186.22" y="288.91" width="3.53" height="3.53" fill="#fff" stroke="#12c212" stroke-width="0.8"/><rect x="194.88" y="285.52" width="3.53" height="3.53" fill="#fff" stroke="#12c212" stroke-width="0.8"/><rect x="203.53" y="283.43" width="3.53" height="3.53" fill="#fff" stroke="#12c212" stroke-width="0.8"/><rect x="212.19" y="281.86" width="3.53" height="3.53" fill="#fff" stroke="#12c212" stroke-width="0.8"/><rect x="220.84" y="280.69" width="3.53" height="3.53" fill="#fff" stroke="#12c212" stroke-width="0.8"/><rect x="229.5" y="280.04" width="3.53" height="3.53" fill="#fff" stroke="#12c212" stroke-width="0.8"/><rect x="238.15" y="279.38" width="3.53" height="3.53" fill="#fff" stroke="#12c212" stroke-width="0.8"/><rect x="246.81" y="278.6" width="3.53" height="3.53" fill="#fff" stroke="#12c212" stroke-width="0.8"/><rect x="255.46" y="277.69" width="3.53" height="3.53" fill="#fff" stroke="#12c212" stroke-width="0.8"/>
<polyline fill="none" stroke="#ff9494" stroke-width="0.65" points="32.2,344.31 40.86,343.01 49.51,340.4 58.17,337.53 66.82,334.53 75.48,331.52 84.13,328.65 92.78,325.39 101.44,322.52 110.1,318.87 118.75,314.95 127.41,311.3 136.06,307.51 144.72,303.47 153.37,299.55 162.03,295.38 170.68,291.07 179.34,288.85 187.99,286.37 196.65,283.63 205.3,280.63 213.96,276.45 222.61,272.54 231.26,268.62 239.92,264.97 248.57,261.18 257.23,257.27"/><polygon points="32.2,346.57 29.94,342.84 34.46,342.84" fill="#fff" stroke="#ff9494" stroke-width="0.8"/><polygon points="40.86,345.26 38.6,341.53 43.11,341.53" fill="#fff" stroke="#ff9494" stroke-width="0.8"/><polygon points="49.51,342.65 47.25,338.92 51.77,338.92" fill="#fff" stroke="#ff9494" stroke-width="0.8"/><polygon points="58.17,339.78 55.91,336.05 60.42,336.05" fill="#fff" stroke="#ff9494" stroke-width="0.8"/><polygon points="66.82,336.78 64.56,333.05 69.08,333.05" fill="#fff" stroke="#ff9494" stroke-width="0.8"/><polygon points="75.48,333.78 73.22,330.05 77.73,330.05" fill="#fff" stroke="#ff9494" stroke-width="0.8"/><polygon points="84.13,330.91 81.87,327.18 86.39,327.18" fill="#fff" stroke="#ff9494" stroke-width="0.8"/><polygon points="92.78,327.65 90.53,323.92 95.04,323.92" fill="#fff" stroke="#ff9494" stroke-width="0.8"/><polygon points="101.44,324.78 99.18,321.05 103.7,321.05" fill="#fff" stroke="#ff9494" stroke-width="0.8"/><polygon points="110.1,321.12 107.84,317.39 112.35,317.39" fill="#fff" stroke="#ff9494" stroke-width="0.8"/><polygon points="118.75,317.21 116.49,313.48 121.01,313.48" fill="#fff" stroke="#ff9494" stroke-width="0.8"/><polygon points="127.41,313.55 125.15,309.82 129.66,309.82" fill="#fff" stroke="#ff9494" stroke-width="0.8"/><polygon points="136.06,309.77 133.8,306.04 138.32,306.04" fill="#fff" stroke="#ff9494" stroke-width="0.8"/><polygon points="144.72,305.72 142.46,301.99 146.97,301.99" fill="#fff" stroke="#ff9494" stroke-width="0.8"/><polygon points="153.37,301.81 151.11,298.08 155.63,298.08" fill="#fff" stroke="#ff9494" stroke-width="0.8"/><polygon points="162.03,297.63 159.77,293.9 164.28,293.9" fill="#fff" stroke="#ff9494" stroke-width="0.8"/><polygon points="170.68,293.33 168.42,289.6 172.94,289.6" fill="#fff" stroke="#ff9494" stroke-width="0.8"/><polygon points="179.34,291.11 177.08,287.38 181.59,287.38" fill="#fff" stroke="#ff9494" stroke-width="0.8"/><polygon points="187.99,288.63 185.73,284.9 190.25,284.9" fill="#fff" stroke="#ff9494" stroke-width="0.8"/><polygon points="196.65,285.89 194.39,282.16 198.9,282.16" fill="#fff" stroke="#ff9494" stroke-width="0.8"/><polygon points="205.3,282.89 203.04,279.16 207.56,279.16" fill="#fff" stroke="#ff9494" stroke-width="0.8"/><polygon points="213.96,278.71 211.7,274.98 216.21,274.98" fill="#fff" stroke="#ff9494" stroke-width="0.8"/><polygon points="222.61,274.79 220.35,271.06 224.87,271.06" fill="#fff" stroke="#ff9494" stroke-width="0.8"/><polygon points="231.26,270.88 229.01,267.15 233.52,267.15" fill="#fff" stroke="#ff9494" stroke-width="0.8"/><polygon points="239.92,267.23 237.66,263.5 242.18,263.5" fill="#fff" stroke="#ff9494" stroke-width="0.8"/><polygon points="248.57,263.44 246.32,259.71 250.83,259.71" fill="#fff" stroke="#ff9494" stroke-width="0.8"/><polygon points="257.23,259.53 254.97,255.8 259.49,255.8" fill="#fff" stroke="#ff9494" stroke-width="0.8"/>
<polyline fill="none" stroke="#800080" stroke-width="0.65" points="84.13,331.92 92.78,329.31 101.44,326.7 118.75,320.82 136.06,316.91 153.37,314.95 170.68,314.95 187.99,315.6 205.3,316.65 222.61,317.56 239.92,318.6 257.23,318.87"/><polygon points="84.13,329.32 81.54,333.61 86.72,333.61" fill="#800080" stroke="#800080" stroke-width="0.5"/><polygon points="92.78,326.71 90.19,331 95.38,331" fill="#800080" stroke="#800080" stroke-width="0.5"/><polygon points="101.44,324.1 98.85,328.39 104.03,328.39" fill="#800080" stroke="#800080" stroke-width="0.5"/><polygon points="118.75,318.23 116.16,322.51 121.34,322.51" fill="#800080" stroke="#800080" stroke-width="0.5"/><polygon points="136.06,314.32 133.47,318.6 138.65,318.6" fill="#800080" stroke="#800080" stroke-width="0.5"/><polygon points="153.37,312.36 150.78,316.64 155.96,316.64" fill="#800080" stroke="#800080" stroke-width="0.5"/><polygon points="170.68,312.36 168.09,316.64 173.27,316.64" fill="#800080" stroke="#800080" stroke-width="0.5"/><polygon points="187.99,313.01 185.4,317.29 190.58,317.29" fill="#800080" stroke="#800080" stroke-width="0.5"/><polygon points="205.3,314.05 202.71,318.34 207.89,318.34" fill="#800080" stroke="#800080" stroke-width="0.5"/><polygon points="222.61,314.97 220.02,319.25 225.2,319.25" fill="#800080" stroke="#800080" stroke-width="0.5"/><polygon points="239.92,316.01 237.33,320.3 242.51,320.3" fill="#800080" stroke="#800080" stroke-width="0.5"/><polygon points="257.23,316.27 254.64,320.56 259.82,320.56" fill="#800080" stroke="#800080" stroke-width="0.5"/>
<polyline fill="none" stroke="#000080" stroke-width="0.65" points="84.13,331.92 92.78,329.31 101.44,326.7 118.75,320.17 136.06,314.95 153.37,309.34 170.68,304.64 187.99,301.9 205.3,299.42 222.61,298.9 239.92,298.51 257.23,297.72"/><circle cx="84.13" cy="331.92" r="2.31" fill="#000080" stroke="#000080" stroke-width="0.5"/><circle cx="92.78" cy="329.31" r="2.31" fill="#000080" stroke="#000080" stroke-width="0.5"/><circle cx="101.44" cy="326.7" r="2.31" fill="#000080" stroke="#000080" stroke-width="0.5"/><circle cx="118.75" cy="320.17" r="2.31" fill="#000080" stroke="#000080" stroke-width="0.5"/><circle cx="136.06" cy="314.95" r="2.31" fill="#000080" stroke="#000080" stroke-width="0.5"/><circle cx="153.37" cy="309.34" r="2.31" fill="#000080" stroke="#000080" stroke-width="0.5"/><circle cx="170.68" cy="304.64" r="2.31" fill="#000080" stroke="#000080" stroke-width="0.5"/><circle cx="187.99" cy="301.9" r="2.31" fill="#000080" stroke="#000080" stroke-width="0.5"/><circle cx="205.3" cy="299.42" r="2.31" fill="#000080" stroke="#000080" stroke-width="0.5"/><circle cx="222.61" cy="298.9" r="2.31" fill="#000080" stroke="#000080" stroke-width="0.5"/><circle cx="239.92" cy="298.51" r="2.31" fill="#000080" stroke="#000080" stroke-width="0.5"/><circle cx="257.23" cy="297.72" r="2.31" fill="#000080" stroke="#000080" stroke-width="0.5"/>
<polyline fill="none" stroke="#0f7a20" stroke-width="0.65" points="84.13,331.92 92.78,329.31 101.44,326.7 118.75,321.48 136.06,316.91 153.37,312.34 170.68,307.77 187.99,302.55 205.3,296.03 222.61,290.16 239.92,285.59 257.23,282.33"/><rect x="82.18" y="329.96" width="3.91" height="3.91" fill="#0f7a20" stroke="#0f7a20" stroke-width="0.5"/><rect x="90.83" y="327.35" width="3.91" height="3.91" fill="#0f7a20" stroke="#0f7a20" stroke-width="0.5"/><rect x="99.49" y="324.74" width="3.91" height="3.91" fill="#0f7a20" stroke="#0f7a20" stroke-width="0.5"/><rect x="116.8" y="319.52" width="3.91" height="3.91" fill="#0f7a20" stroke="#0f7a20" stroke-width="0.5"/><rect x="134.11" y="314.95" width="3.91" height="3.91" fill="#0f7a20" stroke="#0f7a20" stroke-width="0.5"/><rect x="151.42" y="310.39" width="3.91" height="3.91" fill="#0f7a20" stroke="#0f7a20" stroke-width="0.5"/><rect x="168.73" y="305.82" width="3.91" height="3.91" fill="#0f7a20" stroke="#0f7a20" stroke-width="0.5"/><rect x="186.04" y="300.6" width="3.91" height="3.91" fill="#0f7a20" stroke="#0f7a20" stroke-width="0.5"/><rect x="203.35" y="294.07" width="3.91" height="3.91" fill="#0f7a20" stroke="#0f7a20" stroke-width="0.5"/><rect x="220.66" y="288.2" width="3.91" height="3.91" fill="#0f7a20" stroke="#0f7a20" stroke-width="0.5"/><rect x="237.97" y="283.63" width="3.91" height="3.91" fill="#0f7a20" stroke="#0f7a20" stroke-width="0.5"/><rect x="255.28" y="280.37" width="3.91" height="3.91" fill="#0f7a20" stroke="#0f7a20" stroke-width="0.5"/>
<polyline fill="none" stroke="#ff1a1a" stroke-width="0.65" points="84.13,331.92 92.78,329.31 101.44,326.7 118.75,318.87 136.06,311.69 153.37,302.55 170.68,292.76 187.99,282.33 205.3,272.93 222.61,262.75 239.92,253.62 257.23,245.26"/><polygon points="84.13,334.51 81.54,330.22 86.72,330.22" fill="#ff1a1a" stroke="#ff1a1a" stroke-width="0.5"/><polygon points="92.78,331.9 90.19,327.61 95.38,327.61" fill="#ff1a1a" stroke="#ff1a1a" stroke-width="0.5"/><polygon points="101.44,329.29 98.85,325 104.03,325" fill="#ff1a1a" stroke="#ff1a1a" stroke-width="0.5"/><polygon points="118.75,321.46 116.16,317.17 121.34,317.17" fill="#ff1a1a" stroke="#ff1a1a" stroke-width="0.5"/><polygon points="136.06,314.28 133.47,310 138.65,310" fill="#ff1a1a" stroke="#ff1a1a" stroke-width="0.5"/><polygon points="153.37,305.14 150.78,300.86 155.96,300.86" fill="#ff1a1a" stroke="#ff1a1a" stroke-width="0.5"/><polygon points="170.68,295.36 168.09,291.07 173.27,291.07" fill="#ff1a1a" stroke="#ff1a1a" stroke-width="0.5"/><polygon points="187.99,284.92 185.4,280.63 190.58,280.63" fill="#ff1a1a" stroke="#ff1a1a" stroke-width="0.5"/><polygon points="205.3,275.52 202.71,271.24 207.89,271.24" fill="#ff1a1a" stroke="#ff1a1a" stroke-width="0.5"/><polygon points="222.61,265.34 220.02,261.06 225.2,261.06" fill="#ff1a1a" stroke="#ff1a1a" stroke-width="0.5"/><polygon points="239.92,256.21 237.33,251.92 242.51,251.92" fill="#ff1a1a" stroke="#ff1a1a" stroke-width="0.5"/><polygon points="257.23,247.85 254.64,243.57 259.82,243.57" fill="#ff1a1a" stroke="#ff1a1a" stroke-width="0.5"/>
</g>
<g stroke="#000" stroke-width="1.45" fill="none">
<line x1="32.2" y1="223" x2="32.2" y2="380.8"/>
<line x1="31.6" y1="380.6" x2="257.83" y2="380.6"/>
</g>
<g stroke="#000" stroke-width="1.15">
<line x1="28.7" y1="380.2" x2="32.2" y2="380.2"/>
<line x1="28.7" y1="354.1" x2="32.2" y2="354.1"/>
<line x1="28.7" y1="328" x2="32.2" y2="328"/>
<line x1="28.7" y1="301.9" x2="32.2" y2="301.9"/>
<line x1="28.7" y1="275.8" x2="32.2" y2="275.8"/>
<line x1="28.7" y1="249.7" x2="32.2" y2="249.7"/>
<line x1="28.7" y1="223.6" x2="32.2" y2="223.6"/>
<line x1="30.2" y1="367.15" x2="32.2" y2="367.15"/>
<line x1="30.2" y1="341.05" x2="32.2" y2="341.05"/>
<line x1="30.2" y1="314.95" x2="32.2" y2="314.95"/>
<line x1="30.2" y1="288.85" x2="32.2" y2="288.85"/>
<line x1="30.2" y1="262.75" x2="32.2" y2="262.75"/>
<line x1="30.2" y1="236.65" x2="32.2" y2="236.65"/>
<line x1="49.51" y1="380.2" x2="49.51" y2="383.7"/>
<line x1="84.13" y1="380.2" x2="84.13" y2="383.7"/>
<line x1="118.75" y1="380.2" x2="118.75" y2="383.7"/>
<line x1="153.37" y1="380.2" x2="153.37" y2="383.7"/>
<line x1="187.99" y1="380.2" x2="187.99" y2="383.7"/>
<line x1="222.61" y1="380.2" x2="222.61" y2="383.7"/>
<line x1="257.23" y1="380.2" x2="257.23" y2="383.7"/>
<line x1="32.2" y1="380.2" x2="32.2" y2="382.2"/>
<line x1="66.82" y1="380.2" x2="66.82" y2="382.2"/>
<line x1="101.44" y1="380.2" x2="101.44" y2="382.2"/>
<line x1="136.06" y1="380.2" x2="136.06" y2="382.2"/>
<line x1="170.68" y1="380.2" x2="170.68" y2="382.2"/>
<line x1="205.3" y1="380.2" x2="205.3" y2="382.2"/>
<line x1="239.92" y1="380.2" x2="239.92" y2="382.2"/>
</g>
<g font-size="9" text-anchor="end">
<text x="27.5" y="383.3">-2</text>
<text x="27.5" y="357.2">0</text>
<text x="27.5" y="331.1">2</text>
<text x="27.5" y="305">4</text>
<text x="27.5" y="278.9">6</text>
<text x="27.5" y="252.8">8</text>
<text x="27.5" y="226.7">10</text>
</g>
<g font-size="9" text-anchor="middle">
<text x="49.51" y="392.4">1980</text>
<text x="84.13" y="392.4">2000</text>
<text x="118.75" y="392.4">2020</text>
<text x="153.37" y="392.4">2040</text>
<text x="187.99" y="392.4">2060</text>
<text x="222.61" y="392.4">2080</text>
<text x="257.23" y="392.4">2100</text>
</g>
<text transform="translate(9.8,306.2) rotate(-90)" font-size="9.35" text-anchor="middle">Radiative forcing (W/m<tspan font-size="5.8" dy="-3.8">2</tspan><tspan dy="3.8">)</tspan></text>
<text x="44.6" y="222" font-size="7.4">RCPs</text>
<line x1="44.6" y1="229.2" x2="64.7" y2="229.2" stroke="#800080" stroke-width="0.65"/><polygon points="54.6,225.86 51.26,231.38 57.94,231.38" fill="#800080" stroke="#800080" stroke-width="0.5"/><text x="66.7" y="231.94" font-size="7.6">RCP-2.6</text>
<line x1="44.6" y1="239" x2="64.7" y2="239" stroke="#000080" stroke-width="0.65"/><circle cx="54.6" cy="239" r="2.98" fill="#000080" stroke="#000080" stroke-width="0.5"/><text x="66.7" y="241.74" font-size="7.6">RCP-4.5</text>
<line x1="44.6" y1="248.5" x2="64.7" y2="248.5" stroke="#0f7a20" stroke-width="0.65"/><rect x="51.97" y="245.87" width="5.27" height="5.27" fill="#0f7a20" stroke="#0f7a20" stroke-width="0.5"/><text x="66.7" y="251.24" font-size="7.6">RCP-6.0</text>
<line x1="44.6" y1="259.1" x2="64.7" y2="259.1" stroke="#ff1a1a" stroke-width="0.65"/><polygon points="54.6,262.44 51.26,256.92 57.94,256.92" fill="#ff1a1a" stroke="#ff1a1a" stroke-width="0.5"/><text x="66.7" y="261.84" font-size="7.6">RCP-BL</text>
<text x="44.6" y="281.3" font-size="7.6">IMAGE scenarios</text>
<line x1="44.6" y1="288" x2="64.7" y2="288" stroke="#f03cf0" stroke-width="0.65"/><polygon points="54.6,284.66 51.26,290.18 57.94,290.18" fill="#fff" stroke="#f03cf0" stroke-width="0.8"/><text x="66.7" y="290.74" font-size="7.6">IM-2.6</text>
<line x1="44.6" y1="297.6" x2="64.7" y2="297.6" stroke="#3a3af0" stroke-width="0.65"/><circle cx="54.6" cy="297.6" r="2.98" fill="#fff" stroke="#3a3af0" stroke-width="0.8"/><text x="66.7" y="300.34" font-size="7.6">IM-4.5</text>
<line x1="44.6" y1="307.7" x2="64.7" y2="307.7" stroke="#12c212" stroke-width="0.65"/><rect x="51.97" y="305.06" width="5.27" height="5.27" fill="#fff" stroke="#12c212" stroke-width="0.8"/><text x="66.7" y="310.44" font-size="7.6">IM-6</text>
<line x1="44.6" y1="317.3" x2="64.7" y2="317.3" stroke="#ff9494" stroke-width="0.65"/><polygon points="54.6,320.64 51.26,315.12 57.94,315.12" fill="#fff" stroke="#ff9494" stroke-width="0.8"/><text x="66.7" y="320.04" font-size="7.6">IM-BL</text>
<rect x="325.2" y="118.91" width="18.4" height="27.49" fill="#0a470e" stroke="#000" stroke-width="0.75"/><rect x="325.2" y="111.95" width="18.4" height="6.96" fill="#1c8a20" stroke="#000" stroke-width="0.75"/><rect x="325.2" y="109.69" width="18.4" height="2.26" fill="#1cf524" stroke="#000" stroke-width="0.75"/>
<rect x="347.4" y="46" width="19.4" height="100.4" fill="#0a470e" stroke="#000" stroke-width="0.75"/><rect x="347.4" y="27.04" width="19.4" height="18.97" fill="#1c8a20" stroke="#000" stroke-width="0.75"/><rect x="347.4" y="21.47" width="19.4" height="5.57" fill="#1cf524" stroke="#000" stroke-width="0.75"/>
<rect x="370.6" y="98.03" width="18.2" height="48.37" fill="#0a470e" stroke="#000" stroke-width="0.75"/><rect x="370.6" y="92.11" width="18.2" height="5.92" fill="#1c8a20" stroke="#000" stroke-width="0.75"/><rect x="370.6" y="88.11" width="18.2" height="4" fill="#1cf524" stroke="#000" stroke-width="0.75"/>
<rect x="392.6" y="132.13" width="18.3" height="14.27" fill="#0a470e" stroke="#000" stroke-width="0.75"/><rect x="392.6" y="125.35" width="18.3" height="6.79" fill="#1c8a20" stroke="#000" stroke-width="0.75"/><rect x="392.6" y="122.74" width="18.3" height="2.61" fill="#1cf524" stroke="#000" stroke-width="0.75"/>
<rect x="415.3" y="145.7" width="18.9" height="0.7" fill="#0a470e" stroke="#000" stroke-width="0.75"/><rect x="415.3" y="143.44" width="18.9" height="2.26" fill="#1c8a20" stroke="#000" stroke-width="0.75"/><rect x="415.3" y="141.18" width="18.9" height="2.26" fill="#1cf524" stroke="#000" stroke-width="0.75"/><rect x="415.3" y="146.4" width="18.9" height="0.87" fill="#0a470e" stroke="#000" stroke-width="0.75"/>
<rect x="437.6" y="117.34" width="18.6" height="29.06" fill="#0a470e" stroke="#000" stroke-width="0.75"/><rect x="437.6" y="111.6" width="18.6" height="5.74" fill="#1c8a20" stroke="#000" stroke-width="0.75"/><rect x="437.6" y="108.47" width="18.6" height="3.13" fill="#1cf524" stroke="#000" stroke-width="0.75"/>
<rect x="460.2" y="75.23" width="18.6" height="71.17" fill="#0a470e" stroke="#000" stroke-width="0.75"/><rect x="460.2" y="63.4" width="18.6" height="11.83" fill="#1c8a20" stroke="#000" stroke-width="0.75"/><rect x="460.2" y="59.4" width="18.6" height="4" fill="#1cf524" stroke="#000" stroke-width="0.75"/>
<rect x="482.6" y="116.3" width="18.6" height="30.1" fill="#0a470e" stroke="#000" stroke-width="0.75"/><rect x="482.6" y="111.6" width="18.6" height="4.7" fill="#1c8a20" stroke="#000" stroke-width="0.75"/><rect x="482.6" y="108.47" width="18.6" height="3.13" fill="#1cf524" stroke="#000" stroke-width="0.75"/>
<rect x="505.3" y="137.18" width="18.6" height="9.22" fill="#0a470e" stroke="#000" stroke-width="0.75"/><rect x="505.3" y="133.35" width="18.6" height="3.83" fill="#1c8a20" stroke="#000" stroke-width="0.75"/><rect x="505.3" y="130.39" width="18.6" height="2.96" fill="#1cf524" stroke="#000" stroke-width="0.75"/>
<rect x="527.8" y="145.7" width="19" height="0.7" fill="#0a470e" stroke="#000" stroke-width="0.75"/><rect x="527.8" y="143.44" width="19" height="2.26" fill="#1c8a20" stroke="#000" stroke-width="0.75"/><rect x="527.8" y="141.18" width="19" height="2.26" fill="#1cf524" stroke="#000" stroke-width="0.75"/><rect x="527.8" y="146.4" width="19" height="0.77" fill="#0a470e" stroke="#000" stroke-width="0.75"/>
<g stroke="#000" stroke-width="1.45" fill="none">
<line x1="323.2" y1="6.6" x2="323.2" y2="164.4"/>
<line x1="322.6" y1="146.4" x2="548.5" y2="146.4"/>
</g>
<line x1="435.4" y1="7" x2="435.4" y2="146.4" stroke="#000" stroke-width="0.8" stroke-dasharray="2.6,1.7"/>
<g stroke="#000" stroke-width="1.15">
<line x1="319.5" y1="163.8" x2="323.2" y2="163.8"/>
<line x1="319.5" y1="146.4" x2="323.2" y2="146.4"/>
<line x1="319.5" y1="129" x2="323.2" y2="129"/>
<line x1="319.5" y1="111.6" x2="323.2" y2="111.6"/>
<line x1="319.5" y1="94.2" x2="323.2" y2="94.2"/>
<line x1="319.5" y1="76.8" x2="323.2" y2="76.8"/>
<line x1="319.5" y1="59.4" x2="323.2" y2="59.4"/>
<line x1="319.5" y1="42" x2="323.2" y2="42"/>
<line x1="319.5" y1="24.6" x2="323.2" y2="24.6"/>
<line x1="319.5" y1="7.2" x2="323.2" y2="7.2"/>
<line x1="321.2" y1="155.1" x2="323.2" y2="155.1"/>
<line x1="321.2" y1="137.7" x2="323.2" y2="137.7"/>
<line x1="321.2" y1="120.3" x2="323.2" y2="120.3"/>
<line x1="321.2" y1="102.9" x2="323.2" y2="102.9"/>
<line x1="321.2" y1="85.5" x2="323.2" y2="85.5"/>
<line x1="321.2" y1="68.1" x2="323.2" y2="68.1"/>
<line x1="321.2" y1="50.7" x2="323.2" y2="50.7"/>
<line x1="321.2" y1="33.3" x2="323.2" y2="33.3"/>
<line x1="321.2" y1="15.9" x2="323.2" y2="15.9"/>
<line x1="334.4" y1="146.4" x2="334.4" y2="150"/>
<line x1="345.6" y1="146.4" x2="345.6" y2="148.6"/>
<line x1="357.1" y1="146.4" x2="357.1" y2="150"/>
<line x1="368.3" y1="146.4" x2="368.3" y2="148.6"/>
<line x1="379.7" y1="146.4" x2="379.7" y2="150"/>
<line x1="390.9" y1="146.4" x2="390.9" y2="148.6"/>
<line x1="401.75" y1="146.4" x2="401.75" y2="150"/>
<line x1="412.95" y1="146.4" x2="412.95" y2="148.6"/>
<line x1="424.75" y1="146.4" x2="424.75" y2="150"/>
<line x1="435.95" y1="146.4" x2="435.95" y2="148.6"/>
<line x1="446.9" y1="146.4" x2="446.9" y2="150"/>
<line x1="458.1" y1="146.4" x2="458.1" y2="148.6"/>
<line x1="469.5" y1="146.4" x2="469.5" y2="150"/>
<line x1="480.7" y1="146.4" x2="480.7" y2="148.6"/>
<line x1="491.9" y1="146.4" x2="491.9" y2="150"/>
<line x1="503.1" y1="146.4" x2="503.1" y2="148.6"/>
<line x1="514.6" y1="146.4" x2="514.6" y2="150"/>
<line x1="525.8" y1="146.4" x2="525.8" y2="148.6"/>
<line x1="537.3" y1="146.4" x2="537.3" y2="150"/>
</g>
<g font-size="9" text-anchor="end">
<text x="318" y="166.9">-5</text>
<text x="318" y="149.5">0</text>
<text x="318" y="132.1">5</text>
<text x="318" y="114.7">10</text>
<text x="318" y="97.3">15</text>
<text x="318" y="79.9">20</text>
<text x="318" y="62.5">25</text>
<text x="318" y="45.1">30</text>
<text x="318" y="27.7">35</text>
<text x="318" y="10.3">40</text>
</g>
<text transform="translate(303.3,90.4) rotate(-90)" font-size="7.9" text-anchor="middle">Emissions (GtCeq/yr)</text>
<text x="394.8" y="18.2" font-size="13" text-anchor="middle">RCP</text>
<text x="485.2" y="17.2" font-size="13" text-anchor="middle">IMAGE</text>
<g font-size="7.8" text-anchor="end">
<text transform="translate(336.4,173.6) rotate(-45)">2000</text>
<text transform="translate(359.1,173.6) rotate(-45)">RCP8.5</text>
<text transform="translate(381.7,173.6) rotate(-45)">RCP6</text>
<text transform="translate(403.75,173.6) rotate(-45)">RCP4.5</text>
<text transform="translate(426.75,173.6) rotate(-45)">RCP2.6</text>
<text transform="translate(448.9,173.6) rotate(-45)">2000</text>
<text transform="translate(471.5,173.6) rotate(-45)">IM-BL</text>
<text transform="translate(493.9,173.6) rotate(-45)">IM-6</text>
<text transform="translate(516.6,173.6) rotate(-45)">IM-4.5</text>
<text transform="translate(539.3,173.6) rotate(-45)">IM-2.6</text>
</g>
<rect x="498.6" y="60.7" width="19" height="6" fill="#1cf524" stroke="#000" stroke-width="0.9"/>
<text x="520.2" y="65.7" font-size="7.4">N<tspan font-size="4.6" dy="1.8">2</tspan><tspan dy="-1.8">O</tspan></text>
<rect x="498.6" y="73" width="19" height="6" fill="#1c8a20" stroke="#000" stroke-width="0.9"/>
<text x="520.2" y="78" font-size="7.4">CH<tspan font-size="4.6" dy="1.8">4</tspan></text>
<rect x="498.6" y="85.3" width="19" height="6" fill="#0a470e" stroke="#000" stroke-width="0.9"/>
<text x="520.2" y="90.3" font-size="7.4">CO<tspan font-size="4.6" dy="1.8">2</tspan></text>
<rect x="325.2" y="334" width="18.4" height="20.1" fill="#0a470e" stroke="#000" stroke-width="0.75"/><rect x="325.2" y="328.39" width="18.4" height="5.61" fill="#1c8a20" stroke="#000" stroke-width="0.75"/><rect x="325.2" y="324.74" width="18.4" height="3.65" fill="#169a1c" stroke="#000" stroke-width="0.75"/><rect x="325.2" y="321.48" width="18.4" height="3.26" fill="#14d11c" stroke="#000" stroke-width="0.75"/><rect x="325.2" y="354.1" width="18.4" height="10.05" fill="#98f09a" stroke="#000" stroke-width="0.75"/>
<rect x="347.7" y="268.23" width="19.1" height="85.87" fill="#0a470e" stroke="#000" stroke-width="0.75"/><rect x="347.7" y="253.62" width="19.1" height="14.62" fill="#1c8a20" stroke="#000" stroke-width="0.75"/><rect x="347.7" y="247.35" width="19.1" height="6.26" fill="#169a1c" stroke="#000" stroke-width="0.75"/><rect x="347.7" y="243.31" width="19.1" height="4.05" fill="#14d11c" stroke="#000" stroke-width="0.75"/><rect x="347.7" y="354.1" width="19.1" height="0.78" fill="#98f09a" stroke="#000" stroke-width="0.75"/>
<rect x="370.6" y="291.85" width="18.3" height="62.25" fill="#0a470e" stroke="#000" stroke-width="0.75"/><rect x="370.6" y="286.24" width="18.3" height="5.61" fill="#1c8a20" stroke="#000" stroke-width="0.75"/><rect x="370.6" y="280.76" width="18.3" height="5.48" fill="#169a1c" stroke="#000" stroke-width="0.75"/><rect x="370.6" y="278.15" width="18.3" height="2.61" fill="#14d11c" stroke="#000" stroke-width="0.75"/><rect x="370.6" y="354.1" width="18.3" height="4.57" fill="#98f09a" stroke="#000" stroke-width="0.75"/>
<rect x="393.2" y="306.47" width="17.9" height="47.63" fill="#0a470e" stroke="#000" stroke-width="0.75"/><rect x="393.2" y="301.38" width="17.9" height="5.09" fill="#1c8a20" stroke="#000" stroke-width="0.75"/><rect x="393.2" y="297.07" width="17.9" height="4.31" fill="#169a1c" stroke="#000" stroke-width="0.75"/><rect x="393.2" y="294.59" width="17.9" height="2.48" fill="#14d11c" stroke="#000" stroke-width="0.75"/><rect x="393.2" y="354.1" width="17.9" height="3" fill="#98f09a" stroke="#000" stroke-width="0.75"/>
<rect x="415.4" y="323.95" width="18.6" height="30.15" fill="#0a470e" stroke="#000" stroke-width="0.75"/><rect x="415.4" y="320.17" width="18.6" height="3.78" fill="#1c8a20" stroke="#000" stroke-width="0.75"/><rect x="415.4" y="317.17" width="18.6" height="3" fill="#169a1c" stroke="#000" stroke-width="0.75"/><rect x="415.4" y="314.56" width="18.6" height="2.61" fill="#14d11c" stroke="#000" stroke-width="0.75"/><rect x="415.4" y="354.1" width="18.6" height="4.57" fill="#98f09a" stroke="#000" stroke-width="0.75"/>
<rect x="437.5" y="333.22" width="18.9" height="20.88" fill="#0a470e" stroke="#000" stroke-width="0.75"/><rect x="437.5" y="327.74" width="18.9" height="5.48" fill="#1c8a20" stroke="#000" stroke-width="0.75"/><rect x="437.5" y="323.95" width="18.9" height="3.78" fill="#169a1c" stroke="#000" stroke-width="0.75"/><rect x="437.5" y="320.17" width="18.9" height="3.78" fill="#14d11c" stroke="#000" stroke-width="0.75"/><rect x="437.5" y="354.1" width="18.9" height="8.87" fill="#98f09a" stroke="#000" stroke-width="0.75"/>
<rect x="460.4" y="283.63" width="18.6" height="70.47" fill="#0a470e" stroke="#000" stroke-width="0.75"/><rect x="460.4" y="271.49" width="18.6" height="12.14" fill="#1c8a20" stroke="#000" stroke-width="0.75"/><rect x="460.4" y="265.23" width="18.6" height="6.26" fill="#169a1c" stroke="#000" stroke-width="0.75"/><rect x="460.4" y="255.7" width="18.6" height="9.53" fill="#14d11c" stroke="#000" stroke-width="0.75"/><rect x="460.4" y="354.1" width="18.6" height="0.78" fill="#98f09a" stroke="#000" stroke-width="0.75"/>
<rect x="482.6" y="294.72" width="18.6" height="59.38" fill="#0a470e" stroke="#000" stroke-width="0.75"/><rect x="482.6" y="288.46" width="18.6" height="6.26" fill="#1c8a20" stroke="#000" stroke-width="0.75"/><rect x="482.6" y="282.85" width="18.6" height="5.61" fill="#169a1c" stroke="#000" stroke-width="0.75"/><rect x="482.6" y="275.8" width="18.6" height="7.05" fill="#14d11c" stroke="#000" stroke-width="0.75"/><rect x="482.6" y="354.1" width="18.6" height="2.87" fill="#98f09a" stroke="#000" stroke-width="0.75"/>
<rect x="505.5" y="306.86" width="18.4" height="47.24" fill="#0a470e" stroke="#000" stroke-width="0.75"/><rect x="505.5" y="302.94" width="18.4" height="3.92" fill="#1c8a20" stroke="#000" stroke-width="0.75"/><rect x="505.5" y="297.46" width="18.4" height="5.48" fill="#169a1c" stroke="#000" stroke-width="0.75"/><rect x="505.5" y="292.9" width="18.4" height="4.57" fill="#14d11c" stroke="#000" stroke-width="0.75"/><rect x="505.5" y="354.1" width="18.4" height="3.52" fill="#98f09a" stroke="#000" stroke-width="0.75"/>
<rect x="527.7" y="326.96" width="18.9" height="27.14" fill="#0a470e" stroke="#000" stroke-width="0.75"/><rect x="527.7" y="323.69" width="18.9" height="3.26" fill="#1c8a20" stroke="#000" stroke-width="0.75"/><rect x="527.7" y="320.17" width="18.9" height="3.52" fill="#169a1c" stroke="#000" stroke-width="0.75"/><rect x="527.7" y="316.91" width="18.9" height="3.26" fill="#14d11c" stroke="#000" stroke-width="0.75"/><rect x="527.7" y="354.1" width="18.9" height="3.92" fill="#98f09a" stroke="#000" stroke-width="0.75"/>
<g stroke="#000" stroke-width="1.45" fill="none">
<line x1="323.7" y1="223" x2="323.7" y2="381.5"/>
<line x1="323.1" y1="354.1" x2="548.5" y2="354.1"/>
<line x1="323.1" y1="380.9" x2="548.5" y2="380.9"/>
</g>
<line x1="435.4" y1="214" x2="435.4" y2="380.9" stroke="#000" stroke-width="0.8" stroke-dasharray="2.6,1.7"/>
<g stroke="#000" stroke-width="1.15">
<line x1="320" y1="380.2" x2="323.7" y2="380.2"/>
<line x1="320" y1="354.1" x2="323.7" y2="354.1"/>
<line x1="320" y1="328" x2="323.7" y2="328"/>
<line x1="320" y1="301.9" x2="323.7" y2="301.9"/>
<line x1="320" y1="275.8" x2="323.7" y2="275.8"/>
<line x1="320" y1="249.7" x2="323.7" y2="249.7"/>
<line x1="320" y1="223.6" x2="323.7" y2="223.6"/>
<line x1="321.7" y1="367.15" x2="323.7" y2="367.15"/>
<line x1="321.7" y1="341.05" x2="323.7" y2="341.05"/>
<line x1="321.7" y1="314.95" x2="323.7" y2="314.95"/>
<line x1="321.7" y1="288.85" x2="323.7" y2="288.85"/>
<line x1="321.7" y1="262.75" x2="323.7" y2="262.75"/>
<line x1="321.7" y1="236.65" x2="323.7" y2="236.65"/>
<line x1="334.4" y1="380.9" x2="334.4" y2="384.5"/>
<line x1="345.6" y1="380.9" x2="345.6" y2="383.1"/>
<line x1="357.25" y1="380.9" x2="357.25" y2="384.5"/>
<line x1="368.45" y1="380.9" x2="368.45" y2="383.1"/>
<line x1="379.75" y1="380.9" x2="379.75" y2="384.5"/>
<line x1="390.95" y1="380.9" x2="390.95" y2="383.1"/>
<line x1="402.15" y1="380.9" x2="402.15" y2="384.5"/>
<line x1="413.35" y1="380.9" x2="413.35" y2="383.1"/>
<line x1="424.7" y1="380.9" x2="424.7" y2="384.5"/>
<line x1="435.9" y1="380.9" x2="435.9" y2="383.1"/>
<line x1="446.95" y1="380.9" x2="446.95" y2="384.5"/>
<line x1="458.15" y1="380.9" x2="458.15" y2="383.1"/>
<line x1="469.7" y1="380.9" x2="469.7" y2="384.5"/>
<line x1="480.9" y1="380.9" x2="480.9" y2="383.1"/>
<line x1="491.9" y1="380.9" x2="491.9" y2="384.5"/>
<line x1="503.1" y1="380.9" x2="503.1" y2="383.1"/>
<line x1="514.7" y1="380.9" x2="514.7" y2="384.5"/>
<line x1="525.9" y1="380.9" x2="525.9" y2="383.1"/>
<line x1="537.15" y1="380.9" x2="537.15" y2="384.5"/>
</g>
<g font-size="9" text-anchor="end">
<text x="318.5" y="383.3">-2</text>
<text x="318.5" y="357.2">0</text>
<text x="318.5" y="331.1">2</text>
<text x="318.5" y="305">4</text>
<text x="318.5" y="278.9">6</text>
<text x="318.5" y="252.8">8</text>
<text x="318.5" y="226.7">10</text>
</g>
<text transform="translate(301.2,308.8) rotate(-90)" font-size="10.1" text-anchor="middle">Radiative forcing (W/m<tspan font-size="5.8" dy="-3.8">2</tspan><tspan dy="3.8">)</tspan></text>
<text x="393.5" y="223.4" font-size="13" text-anchor="middle">RCP</text>
<text x="489.5" y="221.6" font-size="13" text-anchor="middle">IMAGE</text>
<g font-size="7.8" text-anchor="end">
<text transform="translate(335.9,393.4) rotate(-45)">2000</text>
<text transform="translate(358.75,393.4) rotate(-45)">RCP-BL</text>
<text transform="translate(381.25,393.4) rotate(-45)">RCP6</text>
<text transform="translate(403.65,393.4) rotate(-45)">RCP4.5</text>
<text transform="translate(426.2,393.4) rotate(-45)">RCP2.6</text>
<text transform="translate(448.45,393.4) rotate(-45)">2000</text>
<text transform="translate(471.2,393.4) rotate(-45)">IM-BL</text>
<text transform="translate(493.4,393.4) rotate(-45)">IM6</text>
<text transform="translate(516.2,393.4) rotate(-45)">IM4.5</text>
<text transform="translate(538.65,393.4) rotate(-45)">IM2.6</text>
</g>
<rect x="511.5" y="227.3" width="19" height="5.6" fill="#98f09a" stroke="#000" stroke-width="0.9"/>
<text x="533" y="233.2" font-size="7.6">Other</text>
<rect x="511.5" y="237.1" width="19" height="5.6" fill="#14d11c" stroke="#000" stroke-width="0.9"/>
<text x="533" y="243" font-size="7.6">Halogenated</text>
<rect x="511.5" y="256.7" width="19" height="5.6" fill="#169a1c" stroke="#000" stroke-width="0.9"/>
<text x="533" y="262.6" font-size="7.6">N<tspan font-size="4.6" dy="1.8">2</tspan><tspan dy="-1.8">O</tspan></text>
<rect x="511.5" y="269.1" width="19" height="5.6" fill="#1c8a20" stroke="#000" stroke-width="0.9"/>
<text x="533" y="275" font-size="7.6">CH<tspan font-size="4.6" dy="1.8">4</tspan></text>
<rect x="511.5" y="281.2" width="19" height="5.6" fill="#0a470e" stroke="#000" stroke-width="0.9"/>
<text x="533" y="287.1" font-size="7.6">CO<tspan font-size="4.6" dy="1.8">2</tspan></text>
<text x="533" y="252.6" font-size="7.6">gases</text>
</svg>
</body></html>
